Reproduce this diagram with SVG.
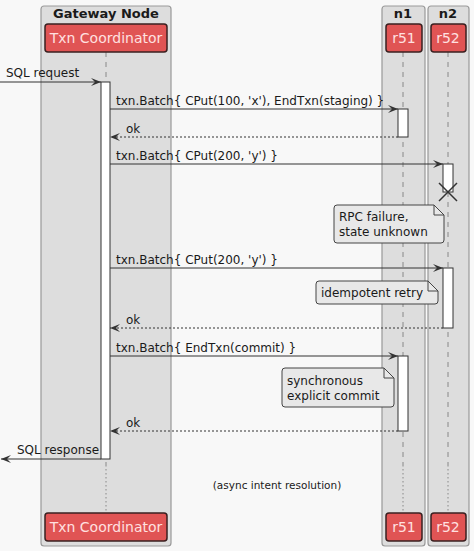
<svg xmlns="http://www.w3.org/2000/svg" width="474" height="551" viewBox="0 0 474 551">
<defs>
<style>
text{font-family:"DejaVu Sans","Liberation Sans",sans-serif;fill:#1a1a1a}
.box{fill:#dddddd;stroke:#999999;stroke-width:1.2}
.btitle{font-size:13px;font-weight:bold;text-anchor:middle}
.head{fill:#e05454;stroke:#3a2020;stroke-width:1.5}
.htext{font-size:14px;fill:#ffe0e0;text-anchor:middle}
.life{stroke:#888888;stroke-width:1;stroke-dasharray:5,5;fill:none}
.dot{stroke:#888888;stroke-width:1;stroke-dasharray:1.5,2.5;fill:none}
.act{fill:#ffffff;stroke:#333333;stroke-width:1}
.msg{stroke:#333333;stroke-width:1;fill:none;marker-end:url(#ah)}
.ret{stroke:#333333;stroke-width:1;stroke-dasharray:2,2;fill:none;marker-end:url(#ah)}
.mt{font-size:12px}
.note{fill:#e8e8e8;stroke:#444444;stroke-width:1}
.nt{font-size:12px}
</style>
<marker id="ah" viewBox="0 0 10 8" refX="10" refY="4" markerWidth="10" markerHeight="8" markerUnits="userSpaceOnUse" orient="auto">
<path d="M0,0 L10,4 L0,8 L4,4 Z" fill="#333333"/>
</marker>
</defs>
<rect x="0" y="0" width="474" height="551" fill="#f8f8f8"/>

<g id="box-gateway">
<rect class="box" x="41" y="6" width="130" height="540" rx="3"/>
<text class="btitle" x="106" y="18">Gateway Node</text>
</g>
<g id="box-n1">
<rect class="box" x="382" y="6" width="43" height="540" rx="3"/>
<text class="btitle" x="403" y="18">n1</text>
</g>
<g id="box-n2">
<rect class="box" x="428" y="6" width="41" height="540" rx="3"/>
<text class="btitle" x="448" y="18">n2</text>
</g>

<g id="lifelines">
<line class="life" x1="106" y1="52" x2="106" y2="465"/>
<line class="dot" x1="106" y1="465" x2="106" y2="513"/>
<line class="life" x1="403" y1="52" x2="403" y2="465"/>
<line class="dot" x1="403" y1="465" x2="403" y2="513"/>
<line class="life" x1="448" y1="52" x2="448" y2="465"/>
<line class="dot" x1="448" y1="465" x2="448" y2="513"/>
</g>

<g id="txn-coordinator">
<rect class="head" x="45" y="24" width="122" height="28" rx="3"/>
<text class="htext" x="106" y="43">Txn Coordinator</text>
<rect class="head" x="45" y="513" width="122" height="28" rx="3"/>
<text class="htext" x="106" y="532">Txn Coordinator</text>
<rect class="act" x="101" y="82" width="9" height="377"/>
</g>
<g id="r51">
<rect class="head" x="386" y="24" width="36" height="28" rx="3"/>
<text class="htext" x="404" y="43">r51</text>
<rect class="head" x="386" y="513" width="36" height="28" rx="3"/>
<text class="htext" x="404" y="532">r51</text>
<rect class="act" x="398" y="109" width="10" height="28"/>
<rect class="act" x="398" y="356" width="10" height="75"/>
</g>
<g id="r52">
<rect class="head" x="431" y="24" width="35" height="28" rx="3"/>
<text class="htext" x="448" y="43">r52</text>
<rect class="head" x="431" y="513" width="35" height="28" rx="3"/>
<text class="htext" x="448" y="532">r52</text>
<rect class="act" x="443" y="164" width="10" height="28"/>
<path d="M439,183 L457,201 M457,183 L439,201" stroke="#333333" stroke-width="1.5"/>
<rect class="act" x="443" y="268" width="10" height="60"/>
</g>

<g id="connectors">
<line class="msg" x1="0" y1="82" x2="101" y2="82"/>
<text class="mt" x="6" y="77">SQL request</text>
<line class="msg" x1="110" y1="109" x2="398" y2="109"/>
<text class="mt" x="116" y="105">txn.Batch{ CPut(100, 'x'), EndTxn(staging) }</text>
<line class="ret" x1="398" y1="137" x2="110" y2="137"/>
<text class="mt" x="126" y="133">ok</text>
<line class="msg" x1="110" y1="164" x2="443" y2="164"/>
<text class="mt" x="116" y="160">txn.Batch{ CPut(200, 'y') }</text>
<line class="msg" x1="110" y1="268" x2="443" y2="268"/>
<text class="mt" x="116" y="264">txn.Batch{ CPut(200, 'y') }</text>
<line class="ret" x1="443" y1="328" x2="110" y2="328"/>
<text class="mt" x="126" y="324">ok</text>
<line class="msg" x1="110" y1="356" x2="398" y2="356"/>
<text class="mt" x="116" y="352">txn.Batch{ EndTxn(commit) }</text>
<line class="ret" x1="398" y1="431" x2="110" y2="431"/>
<text class="mt" x="126" y="427">ok</text>
<line class="msg" x1="101" y1="459" x2="1" y2="459"/>
<text class="mt" x="17" y="454">SQL response</text>
</g>

<g id="note-rpc">
<path class="note" d="M337,205 L434,205 L444,215 L444,240 Q444,243 441,243 L337,243 Q334,243 334,240 L334,208 Q334,205 337,205 Z"/>
<path d="M434,205 L434,215 L444,215" fill="none" stroke="#444444" stroke-width="1"/>
<text class="nt" x="339" y="221">RPC failure,</text>
<text class="nt" x="339" y="236">state unknown</text>
</g>
<g id="note-retry">
<path class="note" d="M319,281 L428,281 L438,291 L438,301 Q438,304 435,304 L319,304 Q316,304 316,301 L316,284 Q316,281 319,281 Z"/>
<path d="M428,281 L428,291 L438,291" fill="none" stroke="#444444" stroke-width="1"/>
<text class="nt" x="321" y="297">idempotent retry</text>
</g>
<g id="note-commit">
<path class="note" d="M285,368 L384,368 L394,378 L394,404 Q394,407 391,407 L285,407 Q282,407 282,404 L282,371 Q282,368 285,368 Z"/>
<path d="M384,368 L384,378 L394,378" fill="none" stroke="#444444" stroke-width="1"/>
<text class="nt" x="287" y="385">synchronous</text>
<text class="nt" x="287" y="400">explicit commit</text>
</g>

<g id="delay">
<text x="277" y="489" font-size="10.5" text-anchor="middle">(async intent resolution)</text>
</g>
</svg>
